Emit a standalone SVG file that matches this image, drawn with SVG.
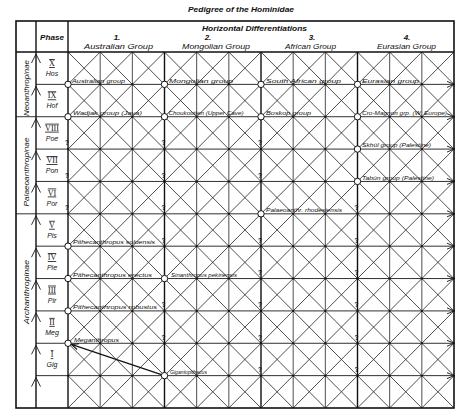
<svg xmlns="http://www.w3.org/2000/svg" width="474" height="417" viewBox="0 0 474 417">
<style>
.bg{fill:#fff}
.thin{stroke:#222;stroke-width:0.8;fill:none}
.row{stroke:#1a1a1a;stroke-width:0.9;fill:none}
.grp{stroke:#111;stroke-width:1.4;fill:none}
.frame{stroke:#111;stroke-width:1.6;fill:none}
.dots{stroke:#111;stroke-width:2;stroke-linecap:round;stroke-dasharray:0 32.1667;fill:none}
.node{fill:#fff;stroke:#111;stroke-width:1}
.lbl{font-family:"Liberation Sans",Arial,sans-serif;font-style:italic;font-size:6px;fill:#111}
.hd{font-family:"Liberation Sans",Arial,sans-serif;font-style:italic;font-weight:bold;font-size:7.5px;fill:#111}
.gn{font-family:"Liberation Sans",Arial,sans-serif;font-style:italic;font-size:7px;fill:#111}
.num{font-family:"Liberation Sans",Arial,sans-serif;font-style:italic;font-weight:bold;font-size:8px;fill:#111;text-anchor:middle}
.rom{font-family:"Liberation Serif",serif;font-size:8px;fill:#111;text-anchor:middle;text-decoration:overline underline}
.ph{font-family:"Liberation Sans",Arial,sans-serif;font-style:italic;font-size:7px;fill:#111;text-anchor:middle}
.side{font-family:"Liberation Sans",Arial,sans-serif;font-style:italic;font-size:7.5px;fill:#111;text-anchor:middle}
.q{font-family:"Liberation Sans",Arial,sans-serif;font-weight:bold;font-size:6.5px;fill:#111;text-anchor:middle}
.ns{vector-effect:non-scaling-stroke}
</style>
<defs>
<marker id="arr" viewBox="-8 -4 9 8" refX="0" refY="0" markerWidth="9" markerHeight="8" markerUnits="userSpaceOnUse" orient="auto">
<path d="M-7,-3L0,0L-7,3" fill="none" stroke="#111" stroke-width="0.9"/>
</marker>
<marker id="arr2" viewBox="-8 -4 9 8" refX="0" refY="0" markerWidth="9" markerHeight="8" markerUnits="userSpaceOnUse" orient="auto">
<path d="M-7,-3L0,0L-7,3" fill="none" stroke="#111" stroke-width="1.1"/>
</marker>
</defs>
<rect class="bg" x="0" y="0" width="474" height="417"/>

<text class="hd" x="188" y="12" textLength="106" lengthAdjust="spacingAndGlyphs">Pedigree of the Hominidae</text>

<g id="connectors">
<g transform="translate(68,52) scale(32.1667,32.3636)">
<path class="thin ns" d="M0 10L1 11M0 9L2 11M0 8L3 11M0 7L4 11M0 6L5 11M0 5L6 11M0 4L7 11M0 3L8 11M0 2L9 11M0 1L10 11M0 0L11 11M1 0L12 11M2 0L12 10M3 0L12 9M4 0L12 8M5 0L12 7M6 0L12 6M7 0L12 5M8 0L12 4M9 0L12 3M10 0L12 2M11 0L12 1"/>
<path class="thin ns" d="M1 0L0 1M2 0L0 2M3 0L0 3M4 0L0 4M5 0L0 5M6 0L0 6M7 0L0 7M8 0L0 8M9 0L0 9M10 0L0 10M11 0L0 11M12 0L1 11M12 1L2 11M12 2L3 11M12 3L4 11M12 4L5 11M12 5L6 11M12 6L7 11M12 7L8 11M12 8L9 11M12 9L10 11M12 10L11 11"/>
<path class="thin ns" d="M1 0V11M2 0V11M4 0V11M5 0V11M7 0V11M8 0V11M10 0V11M11 0V11"/>
</g>
<path class="grp" d="M164.5 52V408M261 52V408M357.5 52V408"/>
<line class="row" x1="36" y1="84.36" x2="454" y2="84.36" marker-end="url(#arr)"/>
<line class="row" x1="16" y1="116.73" x2="454" y2="116.73" marker-end="url(#arr)"/>
<line class="row" x1="36" y1="149.09" x2="454" y2="149.09" marker-end="url(#arr)"/>
<line class="row" x1="36" y1="181.45" x2="454" y2="181.45" marker-end="url(#arr)"/>
<line class="row" x1="16" y1="213.82" x2="454" y2="213.82" marker-end="url(#arr)"/>
<line class="row" x1="36" y1="246.18" x2="454" y2="246.18" marker-end="url(#arr)"/>
<line class="row" x1="36" y1="278.55" x2="454" y2="278.55" marker-end="url(#arr)"/>
<line class="row" x1="36" y1="310.91" x2="454" y2="310.91" marker-end="url(#arr)"/>
<line class="row" x1="36" y1="343.27" x2="454" y2="343.27" marker-end="url(#arr)"/>
<line class="row" x1="36" y1="375.64" x2="454" y2="375.64" marker-end="url(#arr)"/>
<path class="dots" d="M68 84.36H455M68 116.73H455M68 149.09H455M68 181.45H455M68 213.82H455M68 246.18H455M68 278.55H455M68 310.91H455M68 343.27H455M68 375.64H455"/>
<path class="grp" d="M16 52H454M36 21V408M68 21V408"/>
<path class="row" d="M31.5 63L36 54L40.5 63M31.5 95.4L36 86.4L40.5 95.4M31.5 127.7L36 118.7L40.5 127.7M31.5 160.1L36 151.1L40.5 160.1M31.5 192.5L36 183.5L40.5 192.5M31.5 224.8L36 215.8L40.5 224.8M31.5 257.2L36 248.2L40.5 257.2M31.5 289.6L36 280.6L40.5 289.6M31.5 321.9L36 312.9L40.5 321.9M31.5 354.3L36 345.3L40.5 354.3M31.5 386.6L36 377.6L40.5 386.6"/>
<line x1="161.4" y1="374.6" x2="71.4" y2="344.4" stroke="#111" stroke-width="1.2" marker-end="url(#arr2)"/>
<rect class="frame" x="16" y="21" width="438" height="387"/>
</g>

<g id="header">
<text class="hd" x="202" y="30.5" textLength="105" lengthAdjust="spacingAndGlyphs">Horizontal Differentiations</text>
<text class="hd" x="40" y="39.5" textLength="24" lengthAdjust="spacingAndGlyphs">Phase</text>
<text class="num" x="117" y="40">1.</text>
<text class="num" x="208" y="40">2.</text>
<text class="num" x="312" y="40">3.</text>
<text class="num" x="407" y="40">4.</text>
<text class="gn" x="84" y="48.5" textLength="69" lengthAdjust="spacingAndGlyphs">Australian Group</text>
<text class="gn" x="182" y="48.5" textLength="68" lengthAdjust="spacingAndGlyphs">Mongolian Group</text>
<text class="gn" x="285" y="48.5" textLength="51" lengthAdjust="spacingAndGlyphs">African Group</text>
<text class="gn" x="377" y="48.5" textLength="59" lengthAdjust="spacingAndGlyphs">Eurasian Group</text>
</g>

<g id="subfamilies">
<text class="side" transform="translate(28.5,88) rotate(-90)" textLength="56" lengthAdjust="spacingAndGlyphs">Neoanthropinae</text>
<text class="side" transform="translate(28.5,172) rotate(-90)" textLength="69" lengthAdjust="spacingAndGlyphs">Palaeoanthropinae</text>
<text class="side" transform="translate(28.5,292) rotate(-90)" textLength="64" lengthAdjust="spacingAndGlyphs">Archanthropinae</text>
</g>

<g id="phases">
<text class="rom" x="52" y="66">X</text><text class="ph" x="52" y="76">Hos</text>
<text class="rom" x="52" y="98.4">IX</text><text class="ph" x="52" y="108.4">Hof</text>
<text class="rom" x="52" y="130.7">VIII</text><text class="ph" x="52" y="140.7">Poe</text>
<text class="rom" x="52" y="163.1">VII</text><text class="ph" x="52" y="173.1">Pon</text>
<text class="rom" x="52" y="195.5">VI</text><text class="ph" x="52" y="205.5">Por</text>
<text class="rom" x="52" y="227.8">V</text><text class="ph" x="52" y="237.8">Pis</text>
<text class="rom" x="52" y="260.2">IV</text><text class="ph" x="52" y="270.2">Pie</text>
<text class="rom" x="52" y="292.6">III</text><text class="ph" x="52" y="302.6">Pir</text>
<text class="rom" x="52" y="324.9">II</text><text class="ph" x="52" y="334.9">Meg</text>
<text class="rom" x="52" y="357.3">I</text><text class="ph" x="52" y="367.3">Gig</text>
</g>

<g id="uncertain">
<text class="q" x="67" y="145.4">?</text><text class="q" x="163.5" y="145.4">?</text><text class="q" x="260" y="145.4">?</text>
<text class="q" x="67" y="177.8">?</text><text class="q" x="163.5" y="177.8">?</text><text class="q" x="260" y="177.8">?</text>
<text class="q" x="67" y="210.1">?</text><text class="q" x="163.5" y="210.1">?</text><text class="q" x="356.5" y="210.1">?</text>
<text class="q" x="163.5" y="242.5">?</text><text class="q" x="260" y="242.5">?</text><text class="q" x="356.5" y="242.5">?</text>
<text class="q" x="260" y="274.8">?</text><text class="q" x="356.5" y="274.8">?</text>
<text class="q" x="163.5" y="307.2">?</text><text class="q" x="260" y="307.2">?</text><text class="q" x="356.5" y="307.2">?</text>
<text class="q" x="163.5" y="339.6">?</text><text class="q" x="260" y="339.6">?</text><text class="q" x="356.5" y="339.6">?</text>
<text class="q" x="260" y="371.9">?</text><text class="q" x="356.5" y="371.9">?</text>
</g>

<g id="n-australian"><circle class="node" cx="68" cy="84.36" r="3.2"/><text class="lbl" x="72" y="82.6" textLength="53" lengthAdjust="spacingAndGlyphs">Australian group</text></g>
<g id="n-mongolian"><circle class="node" cx="164.5" cy="84.36" r="3.2"/><text class="lbl" x="169" y="82.6" textLength="64" lengthAdjust="spacingAndGlyphs">Mongolian group</text></g>
<g id="n-southafrican"><circle class="node" cx="261" cy="84.36" r="3.2"/><text class="lbl" x="266" y="82.6" textLength="75" lengthAdjust="spacingAndGlyphs">South African group</text></g>
<g id="n-eurasian"><circle class="node" cx="357.5" cy="84.36" r="3.2"/><text class="lbl" x="362" y="82.6" textLength="57" lengthAdjust="spacingAndGlyphs">Eurasian group</text></g>
<g id="n-wadjak"><circle class="node" cx="68" cy="116.73" r="3.2"/><text class="lbl" x="73" y="114.9" textLength="69" lengthAdjust="spacingAndGlyphs">Wadjak group (Java)</text></g>
<g id="n-choukoutien"><circle class="node" cx="164.5" cy="116.73" r="3.2"/><text class="lbl" x="168.5" y="114.9" textLength="75" lengthAdjust="spacingAndGlyphs">Choukoutien (Upper Cave)</text></g>
<g id="n-boskop"><circle class="node" cx="261" cy="116.73" r="3.2"/><text class="lbl" x="266" y="114.9" textLength="45" lengthAdjust="spacingAndGlyphs">Boskop group</text></g>
<g id="n-cromagnon"><circle class="node" cx="357.5" cy="116.73" r="3.2"/><text class="lbl" x="362" y="114.9" textLength="85" lengthAdjust="spacingAndGlyphs">Cro-Magnon grp. (W. Europe)</text></g>
<g id="n-skhul"><circle class="node" cx="357.5" cy="149.09" r="3.2"/><text class="lbl" x="362" y="147.3" textLength="69" lengthAdjust="spacingAndGlyphs">Skhūl group (Palestine)</text></g>
<g id="n-tabun"><circle class="node" cx="357.5" cy="181.45" r="3.2"/><text class="lbl" x="362" y="179.7" textLength="72" lengthAdjust="spacingAndGlyphs">Tabūn group (Palestine)</text></g>
<g id="n-rhodesiensis"><circle class="node" cx="261" cy="213.82" r="3.2"/><text class="lbl" x="266" y="212" textLength="76" lengthAdjust="spacingAndGlyphs">Palaeoanthr. rhodesiensis</text></g>
<g id="n-soloensis"><circle class="node" cx="68" cy="246.18" r="3.2"/><text class="lbl" x="73" y="244.4" textLength="82" lengthAdjust="spacingAndGlyphs">Pithecanthropus soloensis</text></g>
<g id="n-erectus"><circle class="node" cx="68" cy="278.55" r="3.2"/><text class="lbl" x="73" y="276.8" textLength="79" lengthAdjust="spacingAndGlyphs">Pithecanthropus erectus</text></g>
<g id="n-sinanthropus"><circle class="node" cx="164.5" cy="278.55" r="3.2"/><text class="lbl" x="171" y="276.8" textLength="66" lengthAdjust="spacingAndGlyphs">Sinanthropus pekinensis</text></g>
<g id="n-robustus"><circle class="node" cx="68" cy="310.91" r="3.2"/><text class="lbl" x="73" y="309.1" textLength="84" lengthAdjust="spacingAndGlyphs">Pithecanthropus robustus</text></g>
<g id="n-meganthropus"><circle class="node" cx="68" cy="343.27" r="3.2"/><text class="lbl" x="74" y="341.5" textLength="45" lengthAdjust="spacingAndGlyphs">Meganthropus</text></g>
<g id="n-gigantopithecus"><circle class="node" cx="164.5" cy="375.64" r="3.2"/><text class="lbl" x="170" y="373.8" textLength="37" lengthAdjust="spacingAndGlyphs">Gigantopithecus</text></g>
</svg>
